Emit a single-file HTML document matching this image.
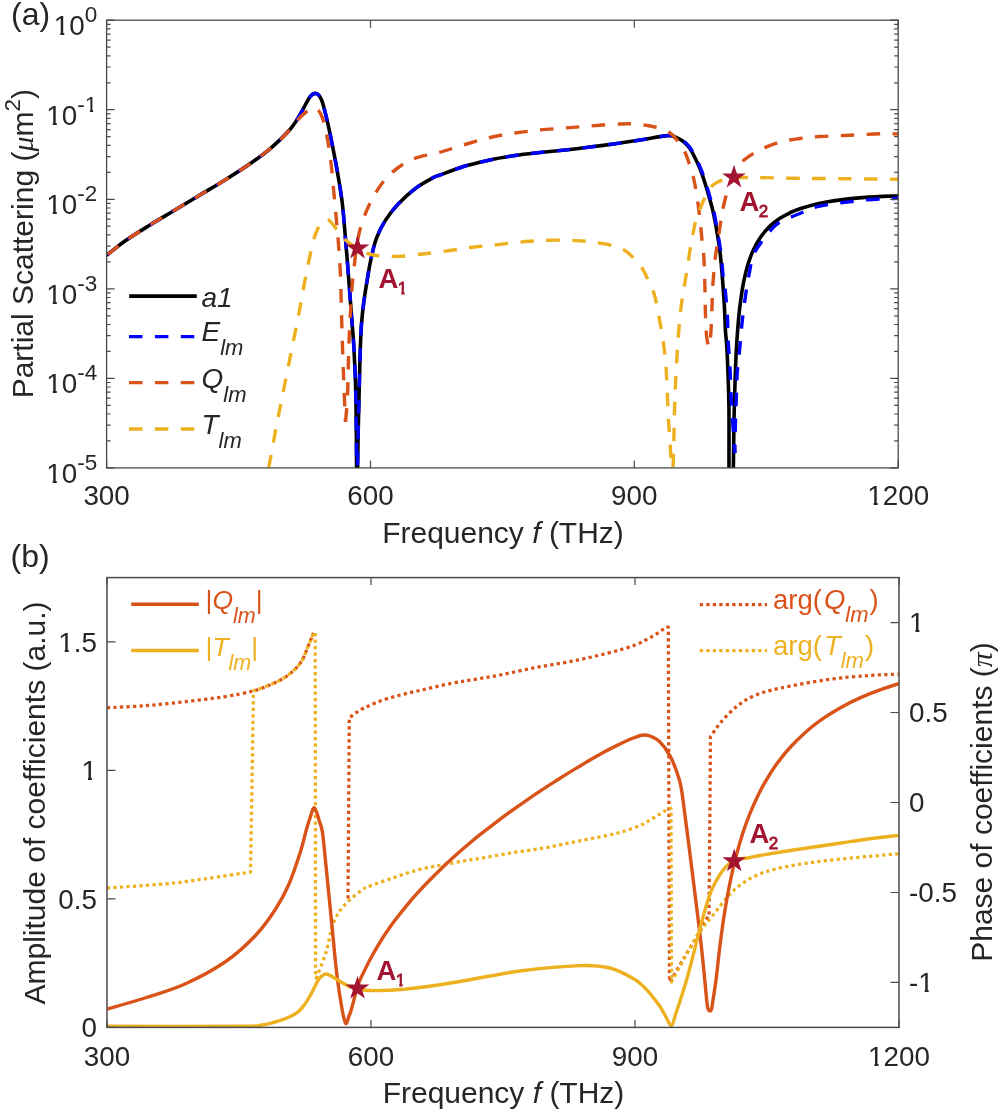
<!DOCTYPE html><html><head><meta charset="utf-8"><style>html,body{margin:0;padding:0;background:#fff;}svg{display:block;will-change:transform;}text{font-family:"Liberation Sans",sans-serif;fill:#262626;}</style></head><body>
<svg width="1000" height="1111" viewBox="0 0 1000 1111">
<rect width="1000" height="1111" fill="#fff"/>
<defs><clipPath id="ca"><rect x="106.6" y="20.2" width="791.6" height="447.7"/></clipPath>
<clipPath id="cb"><rect x="107" y="577.6" width="792" height="449.8"/></clipPath></defs>
<g clip-path="url(#ca)" fill="none" stroke-linejoin="round">
<path d="M106.6 255.3C109.7 252.9 117.8 246.1 125.0 241.0C132.2 235.9 141.7 230.2 150.0 225.0C158.3 219.8 166.7 215.0 175.0 210.0C183.3 205.0 191.7 200.0 200.0 195.0C208.3 190.0 216.7 185.2 225.0 180.0C233.3 174.8 242.5 169.0 250.0 163.8C257.5 158.5 263.3 154.5 270.0 148.8C276.7 143.0 284.9 135.4 290.0 129.5C295.1 123.6 297.5 118.7 300.8 113.3C304.1 107.9 307.2 100.4 309.8 97.1C312.4 93.8 314.2 93.0 316.1 93.5C318.1 94.0 319.7 95.5 321.5 99.8C323.3 104.1 325.1 112.1 326.9 119.6C328.7 127.1 330.5 135.8 332.3 144.8C334.1 153.8 336.1 164.0 337.7 173.6C339.3 183.2 340.9 191.9 342.2 202.4C343.5 212.9 344.4 225.7 345.3 236.5C346.2 247.3 347.0 256.9 347.8 267.0C348.6 277.1 349.4 288.0 350.1 297.2C350.8 306.4 351.4 313.9 352.0 322.0C352.6 330.1 353.3 337.1 353.8 345.9C354.3 354.7 354.8 364.9 355.2 375.0C355.6 385.1 355.8 395.8 356.0 406.6C356.2 417.4 356.3 429.9 356.4 440.0C356.5 450.1 356.5 458.7 356.6 467.0C356.7 475.3 356.8 486.2 356.8 490.0L358.2 490.0C358.1 486.0 357.6 477.9 357.6 466.0C357.7 454.1 358.1 434.7 358.5 418.7C358.9 402.7 359.3 384.2 359.7 370.0C360.1 355.8 360.4 343.0 360.9 333.7C361.3 324.4 361.8 320.1 362.4 314.0C363.0 307.9 363.7 302.9 364.5 297.2C365.3 291.5 366.2 286.1 367.2 280.0C368.2 273.9 369.1 267.7 370.6 260.8C372.1 253.9 373.9 245.1 376.4 238.4C378.9 231.7 381.8 226.1 385.4 220.4C389.0 214.7 392.9 209.6 398.0 204.2C403.1 198.8 410.0 192.5 416.0 188.0C422.0 183.5 430.0 179.4 434.0 177.2C438.0 175.0 434.8 176.9 440.0 175.0C445.2 173.1 456.7 168.5 465.0 166.0C473.3 163.5 481.7 161.8 490.0 160.0C498.3 158.2 506.7 156.8 515.0 155.5C523.3 154.2 531.7 153.4 540.0 152.5C548.3 151.6 556.7 150.9 565.0 150.0C573.3 149.1 581.7 148.0 590.0 147.0C598.3 146.0 606.7 144.9 615.0 143.8C623.3 142.6 631.7 141.3 640.0 140.0C648.3 138.7 659.8 136.6 665.0 135.9C670.2 135.2 669.2 135.4 671.0 135.6C672.8 135.8 674.2 136.5 676.0 137.3C677.8 138.1 680.0 139.1 682.0 140.5C684.0 141.9 686.3 144.1 688.0 146.0C689.7 147.9 690.5 149.3 692.0 152.0C693.5 154.7 695.6 159.0 697.0 162.0C698.4 165.0 699.3 167.0 700.5 170.0C701.7 173.0 702.4 175.0 704.0 180.0C705.6 185.0 708.3 194.0 710.0 200.0C711.7 206.0 712.3 207.3 714.0 216.0C715.7 224.7 718.3 238.0 720.0 252.0C721.7 266.0 723.1 287.0 724.0 300.0C724.9 313.0 724.9 321.3 725.4 330.0C725.9 338.7 726.5 339.3 727.1 352.0C727.7 364.7 728.6 386.8 728.9 406.0C729.2 425.2 728.9 453.0 729.0 467.0C729.1 481.0 729.4 486.2 729.5 490.0L733.0 490.0C733.1 486.0 733.2 479.7 733.4 466.0C733.6 452.3 733.8 426.2 734.3 407.7C734.8 389.1 735.4 369.4 736.1 354.7C736.8 340.0 737.7 329.1 738.5 319.6C739.3 310.2 740.1 304.6 741.0 298.0C741.9 291.4 742.8 285.8 744.0 280.2C745.2 274.6 746.5 269.2 748.0 264.3C749.5 259.4 751.0 255.1 753.0 250.7C755.0 246.3 757.2 242.1 760.0 238.0C762.8 233.9 766.7 229.4 770.0 226.1C773.3 222.8 776.7 220.5 780.0 218.3C783.3 216.1 786.7 214.4 790.0 212.8C793.3 211.2 795.0 210.3 800.0 208.7C805.0 207.1 814.2 204.7 820.0 203.3C825.8 202.0 827.5 201.6 835.0 200.6C842.5 199.6 854.2 198.2 865.0 197.4C875.8 196.6 894.2 196.1 900.0 195.8" stroke="#000" stroke-width="3.6"/>
<path d="M106.6 255.3C109.7 252.9 117.8 246.1 125.0 241.0C132.2 235.9 141.7 230.2 150.0 225.0C158.3 219.8 166.7 215.0 175.0 210.0C183.3 205.0 191.7 200.0 200.0 195.0C208.3 190.0 216.7 185.2 225.0 180.0C233.3 174.8 242.5 169.0 250.0 163.8C257.5 158.5 263.3 154.5 270.0 148.8C276.7 143.0 284.9 135.4 290.0 129.5C295.1 123.6 297.5 118.7 300.8 113.3C304.1 107.9 307.2 100.4 309.8 97.1C312.4 93.8 314.2 93.0 316.1 93.5C318.1 94.0 319.7 95.5 321.5 99.8C323.3 104.1 325.1 112.1 326.9 119.6C328.7 127.1 330.5 135.8 332.3 144.8C334.1 153.8 336.1 164.0 337.7 173.6C339.3 183.2 340.9 191.9 342.2 202.4C343.5 212.9 344.4 225.7 345.3 236.5C346.2 247.3 347.0 256.9 347.8 267.0C348.6 277.1 349.4 288.0 350.1 297.2C350.8 306.4 351.4 313.9 352.0 322.0C352.6 330.1 353.3 337.1 353.8 345.9C354.3 354.7 354.8 364.9 355.2 375.0C355.6 385.1 355.8 395.8 356.0 406.6C356.2 417.4 356.3 429.9 356.4 440.0C356.5 450.1 356.5 458.7 356.6 467.0C356.7 475.3 356.8 486.2 356.8 490.0" stroke="#0000FF" stroke-width="3.4" stroke-dasharray="13.5 12.4" stroke-dashoffset="-1"/>
<path d="M358.2 490.0C358.1 486.0 357.6 477.9 357.6 466.0C357.7 454.1 358.1 434.7 358.5 418.7C358.9 402.7 359.3 384.2 359.7 370.0C360.1 355.8 360.4 343.0 360.9 333.7C361.3 324.4 361.8 320.1 362.4 314.0C363.0 307.9 363.7 302.9 364.5 297.2C365.3 291.5 366.2 286.1 367.2 280.0C368.2 273.9 369.1 267.7 370.6 260.8C372.1 253.9 373.9 245.1 376.4 238.4C378.9 231.7 381.8 226.1 385.4 220.4C389.0 214.7 392.9 209.6 398.0 204.2C403.1 198.8 410.0 192.5 416.0 188.0C422.0 183.5 430.0 179.4 434.0 177.2C438.0 175.0 434.8 176.9 440.0 175.0C445.2 173.1 456.7 168.5 465.0 166.0C473.3 163.5 481.7 161.8 490.0 160.0C498.3 158.2 506.7 156.8 515.0 155.5C523.3 154.2 531.7 153.4 540.0 152.5C548.3 151.6 556.7 150.9 565.0 150.0C573.3 149.1 581.7 148.0 590.0 147.0C598.3 146.0 606.7 144.9 615.0 143.8C623.3 142.6 631.7 141.3 640.0 140.0C648.3 138.7 659.8 136.6 665.0 135.9C670.2 135.2 669.2 135.4 671.0 135.6C672.8 135.8 674.1 136.5 676.0 137.3C677.9 138.1 680.4 139.1 682.5 140.5C684.6 141.9 687.0 144.1 688.7 146.0C690.4 147.9 691.3 149.3 692.8 152.0C694.3 154.7 696.4 159.0 697.8 162.0C699.2 165.0 700.1 167.0 701.3 170.0C702.5 173.0 703.2 175.0 704.8 180.0C706.4 185.0 709.1 194.0 710.8 200.0C712.5 206.0 713.1 207.3 714.8 216.0C716.5 224.7 719.4 242.2 720.8 252.0C722.2 261.8 722.3 269.1 723.0 275.0C723.7 280.9 724.2 280.7 724.9 287.2C725.6 293.7 726.8 305.2 727.3 314.2C727.8 323.2 727.8 332.2 728.2 341.2C728.7 350.2 729.5 359.5 730.0 368.2C730.5 376.9 730.4 384.4 730.9 393.4C731.4 402.4 732.1 412.3 732.7 422.2C733.4 432.1 734.4 447.9 734.8 453.0" stroke="#0000FF" stroke-width="3.4" stroke-dasharray="13.5 12.4" stroke-dashoffset="674.38"/>
<path d="M734.8 453.0C734.9 448.2 735.1 433.0 735.4 424.0C735.6 415.0 736.0 407.2 736.3 398.8C736.6 390.4 736.6 382.3 737.2 373.6C737.8 364.9 739.0 355.9 739.9 346.6C740.8 337.3 741.5 327.1 742.6 317.8C743.7 308.5 745.1 298.4 746.2 290.8C747.4 283.2 748.4 277.8 749.5 272.0C750.6 266.2 751.2 260.7 753.0 256.0C754.8 251.3 757.2 248.2 760.0 244.0C762.8 239.8 766.7 234.7 770.0 231.0C773.3 227.3 775.0 224.9 780.0 222.0C785.0 219.1 793.3 216.2 800.0 213.5C806.7 210.8 809.2 208.2 820.0 206.0C830.8 203.8 851.7 201.3 865.0 200.0C878.3 198.7 894.2 198.5 900.0 198.2" stroke="#0000FF" stroke-width="3.4" stroke-dasharray="13.5 12.4" stroke-dashoffset="1584.91"/>
<path d="M106.6 255.3C109.7 252.9 117.8 246.1 125.0 241.0C132.2 235.9 141.7 230.2 150.0 225.0C158.3 219.8 166.7 215.0 175.0 210.0C183.3 205.0 191.7 200.0 200.0 195.0C208.3 190.0 216.7 185.2 225.0 180.0C233.3 174.8 242.5 169.0 250.0 163.8C257.5 158.5 264.2 153.5 270.0 148.8C275.8 144.0 280.5 139.7 285.0 135.0C289.5 130.3 293.4 124.6 297.2 120.5C301.0 116.4 304.9 112.6 308.0 110.6C311.1 108.6 313.6 107.3 316.0 108.5C318.4 109.7 320.4 112.3 322.4 117.8C324.4 123.2 326.3 133.1 327.8 141.2C329.3 149.3 330.3 157.4 331.4 166.4C332.4 175.4 333.2 185.6 334.1 195.2C335.0 204.8 336.1 215.6 336.8 224.0C337.6 232.4 338.0 237.2 338.6 245.6C339.2 254.0 339.9 261.3 340.4 274.4C340.9 287.5 341.3 306.7 341.8 324.0C342.3 341.3 343.0 361.7 343.6 378.0C344.2 394.3 345.2 414.7 345.5 422.0" stroke="#D95319" stroke-width="3.4" stroke-dasharray="13.5 12.4" stroke-dashoffset="-1.8"/>
<path d="M345.5 422.0C345.8 417.7 346.9 409.3 347.5 396.0C348.1 382.7 348.3 358.8 349.0 342.0C349.7 325.2 350.7 307.2 351.5 295.0C352.3 282.8 352.8 278.7 353.9 269.0C355.0 259.3 356.4 245.9 358.4 236.6C360.3 227.3 362.6 220.7 365.6 213.2C368.6 205.7 372.2 198.2 376.4 191.6C380.6 185.0 384.8 179.0 390.8 173.6C396.8 168.2 404.4 162.7 412.4 159.2C420.4 155.7 430.2 154.9 439.0 152.5C447.8 150.1 456.5 147.0 465.0 144.5C473.5 142.0 481.7 139.4 490.0 137.5C498.3 135.6 506.7 134.2 515.0 133.0C523.3 131.8 531.7 130.8 540.0 130.0C548.3 129.2 556.7 128.7 565.0 128.0C573.3 127.3 580.8 126.7 590.0 126.0C599.2 125.3 612.5 124.3 620.0 124.0C627.5 123.7 630.0 123.7 635.0 124.0C640.0 124.3 645.8 125.2 650.0 126.0C654.2 126.8 656.7 127.3 660.0 128.5C663.3 129.7 667.2 131.1 670.0 133.0C672.8 134.9 674.7 137.2 677.0 140.0C679.3 142.8 682.0 146.2 684.0 150.0C686.0 153.8 687.3 158.0 689.0 163.0C690.7 168.0 692.6 173.8 694.0 180.0C695.4 186.2 696.5 193.3 697.5 200.0C698.5 206.7 699.2 213.3 700.0 220.0C700.8 226.7 701.3 233.3 702.0 240.0C702.7 246.7 703.5 251.3 704.0 260.0C704.5 268.7 704.8 282.7 705.0 292.0C705.2 301.3 705.2 308.7 705.5 316.0C705.8 323.3 706.1 331.1 706.6 336.0C707.1 340.9 707.9 343.9 708.2 345.5" stroke="#D95319" stroke-width="3.4" stroke-dasharray="13.5 12.4" stroke-dashoffset="569.09"/>
<path d="M708.2 345.5C708.6 343.9 710.0 342.4 710.6 336.0C711.2 329.6 711.7 314.7 712.0 307.0C712.3 299.3 712.0 297.8 712.5 290.0C713.0 282.2 714.1 268.3 715.0 260.0C715.9 251.7 717.0 246.7 718.0 240.0C719.0 233.3 720.0 226.0 721.0 220.0C722.0 214.0 722.7 209.7 724.0 204.0C725.3 198.3 727.3 191.0 729.0 186.0C730.7 181.0 731.5 178.3 734.0 174.0C736.5 169.7 739.7 164.0 744.0 160.0C748.3 156.0 754.0 153.0 760.0 150.0C766.0 147.0 773.3 143.9 780.0 142.0C786.7 140.1 793.3 139.4 800.0 138.5C806.7 137.6 811.7 137.0 820.0 136.5C828.3 136.0 840.0 135.7 850.0 135.2C860.0 134.8 871.7 134.0 880.0 133.8C888.3 133.5 896.7 134.0 900.0 134.0" stroke="#D95319" stroke-width="3.4" stroke-dasharray="13.5 12.4" stroke-dashoffset="1338.32"/>
<path d="M265.0 490.0C265.6 486.2 266.9 478.2 268.9 467.0C270.9 455.8 274.4 436.3 277.0 423.0C279.6 409.7 281.8 399.0 284.2 387.0C286.6 375.0 289.0 363.0 291.4 351.0C293.8 339.0 296.3 326.8 298.6 315.0C300.9 303.2 303.1 289.8 305.0 280.0C306.9 270.2 308.5 262.7 309.8 256.4C311.1 250.1 312.0 245.9 313.0 242.0C314.0 238.1 314.7 236.0 316.0 233.0C317.3 230.0 318.6 226.2 320.6 224.0C322.6 221.8 325.1 218.6 327.8 219.5C330.5 220.4 333.8 226.0 336.8 229.4C339.8 232.8 341.6 236.6 345.8 240.2C350.0 243.8 356.9 248.4 362.0 251.0C367.1 253.6 370.4 254.6 376.4 255.5C382.4 256.4 389.9 256.7 398.0 256.4C406.1 256.1 416.3 254.7 425.0 253.7C433.7 252.7 442.5 251.5 450.0 250.5C457.5 249.5 463.3 248.3 470.0 247.5C476.7 246.7 483.3 246.2 490.0 245.5C496.7 244.8 503.3 243.9 510.0 243.2C516.7 242.5 523.3 241.8 530.0 241.3C536.7 240.8 542.5 240.3 550.0 240.2C557.5 240.1 568.3 240.3 575.0 240.6C581.7 240.9 584.2 241.1 590.0 241.8C595.8 242.5 604.3 243.6 610.0 245.0C615.7 246.4 620.2 248.0 624.0 250.0C627.8 252.0 629.5 254.0 632.5 257.0C635.5 260.0 639.4 264.2 642.0 268.0C644.6 271.8 645.8 275.2 648.0 280.0C650.2 284.8 652.8 288.6 655.0 297.0C657.2 305.4 659.7 320.6 661.4 330.4C663.1 340.2 664.1 347.2 665.0 355.6C665.9 364.0 666.3 370.9 666.8 380.8C667.3 390.7 667.7 404.8 668.2 415.0C668.7 425.2 669.5 433.3 670.0 442.0C670.5 450.7 671.1 459.0 671.5 467.0C671.9 475.0 672.3 486.2 672.5 490.0" stroke="#EDB120" stroke-width="3.4" stroke-dasharray="13.5 12.4" stroke-dashoffset="3.75"/>
<path d="M673.0 490.0C673.0 486.2 672.9 476.5 673.1 467.0C673.3 457.5 673.7 444.7 674.0 433.0C674.3 421.3 674.4 409.0 674.9 397.0C675.4 385.0 676.1 371.5 676.7 361.0C677.3 350.5 677.9 342.2 678.5 334.0C679.1 325.8 679.9 317.7 680.5 312.0C681.1 306.3 681.4 304.0 682.0 300.0C682.6 296.0 683.2 293.0 684.0 288.0C684.8 283.0 686.0 276.3 687.0 270.0C688.0 263.7 689.0 256.0 690.0 250.0C691.0 244.0 692.0 239.0 693.0 234.0C694.0 229.0 694.5 225.0 696.0 220.0C697.5 215.0 700.2 208.3 702.0 204.0C703.8 199.7 705.3 197.0 707.0 194.0C708.7 191.0 710.2 188.0 712.0 186.0C713.8 184.0 716.0 183.1 718.0 182.0C720.0 180.9 721.4 180.2 724.0 179.5C726.6 178.8 728.1 177.9 733.6 177.6C739.1 177.3 745.9 177.5 757.0 177.6C768.1 177.7 784.5 178.1 800.0 178.3C815.5 178.5 833.3 178.6 850.0 178.8C866.7 178.9 891.7 179.1 900.0 179.2" stroke="#EDB120" stroke-width="3.4" stroke-dasharray="13.5 12.4" stroke-dashoffset="857.65"/>
</g>
<path d="M106.6 20.2L114.6 20.2M898.2 20.2L890.2 20.2M106.6 82.8L110.6 82.8M898.2 82.8L894.2 82.8M106.6 67.0L110.6 67.0M898.2 67.0L894.2 67.0M106.6 55.8L110.6 55.8M898.2 55.8L894.2 55.8M106.6 47.2L110.6 47.2M898.2 47.2L894.2 47.2M106.6 40.1L110.6 40.1M898.2 40.1L894.2 40.1M106.6 34.1L110.6 34.1M898.2 34.1L894.2 34.1M106.6 28.9L110.6 28.9M898.2 28.9L894.2 28.9M106.6 24.3L110.6 24.3M898.2 24.3L894.2 24.3M106.6 109.7L114.6 109.7M898.2 109.7L890.2 109.7M106.6 172.3L110.6 172.3M898.2 172.3L894.2 172.3M106.6 156.6L110.6 156.6M898.2 156.6L894.2 156.6M106.6 145.4L110.6 145.4M898.2 145.4L894.2 145.4M106.6 136.7L110.6 136.7M898.2 136.7L894.2 136.7M106.6 129.6L110.6 129.6M898.2 129.6L894.2 129.6M106.6 123.6L110.6 123.6M898.2 123.6L894.2 123.6M106.6 118.4L110.6 118.4M898.2 118.4L894.2 118.4M106.6 113.8L110.6 113.8M898.2 113.8L894.2 113.8M106.6 199.3L114.6 199.3M898.2 199.3L890.2 199.3M106.6 261.9L110.6 261.9M898.2 261.9L894.2 261.9M106.6 246.1L110.6 246.1M898.2 246.1L894.2 246.1M106.6 234.9L110.6 234.9M898.2 234.9L894.2 234.9M106.6 226.2L110.6 226.2M898.2 226.2L894.2 226.2M106.6 219.1L110.6 219.1M898.2 219.1L894.2 219.1M106.6 213.1L110.6 213.1M898.2 213.1L894.2 213.1M106.6 208.0L110.6 208.0M898.2 208.0L894.2 208.0M106.6 203.4L110.6 203.4M898.2 203.4L894.2 203.4M106.6 288.8L114.6 288.8M898.2 288.8L890.2 288.8M106.6 351.4L110.6 351.4M898.2 351.4L894.2 351.4M106.6 335.6L110.6 335.6M898.2 335.6L894.2 335.6M106.6 324.5L110.6 324.5M898.2 324.5L894.2 324.5M106.6 315.8L110.6 315.8M898.2 315.8L894.2 315.8M106.6 308.7L110.6 308.7M898.2 308.7L894.2 308.7M106.6 302.7L110.6 302.7M898.2 302.7L894.2 302.7M106.6 297.5L110.6 297.5M898.2 297.5L894.2 297.5M106.6 292.9L110.6 292.9M898.2 292.9L894.2 292.9M106.6 378.4L114.6 378.4M898.2 378.4L890.2 378.4M106.6 440.9L110.6 440.9M898.2 440.9L894.2 440.9M106.6 425.2L110.6 425.2M898.2 425.2L894.2 425.2M106.6 414.0L110.6 414.0M898.2 414.0L894.2 414.0M106.6 405.3L110.6 405.3M898.2 405.3L894.2 405.3M106.6 398.2L110.6 398.2M898.2 398.2L894.2 398.2M106.6 392.2L110.6 392.2M898.2 392.2L894.2 392.2M106.6 387.0L110.6 387.0M898.2 387.0L894.2 387.0M106.6 382.5L110.6 382.5M898.2 382.5L894.2 382.5M106.6 467.9L114.6 467.9M898.2 467.9L890.2 467.9M106.6 20.2L106.6 27.7M106.6 467.9L106.6 460.4M370.5 20.2L370.5 27.7M370.5 467.9L370.5 460.4M634.3 20.2L634.3 27.7M634.3 467.9L634.3 460.4M898.2 20.2L898.2 27.7M898.2 467.9L898.2 460.4" stroke="#4a4a4a" stroke-width="1.2" fill="none"/>
<rect x="106.6" y="20.2" width="791.6" height="447.7" fill="none" stroke="#4a4a4a" stroke-width="1.3"/>
<text x="97.3" y="35.2" font-size="27.8" text-anchor="end">10<tspan font-size="22.5" dy="-13">0</tspan></text>
<text x="97.3" y="124.7" font-size="27.8" text-anchor="end">10<tspan font-size="22.5" dy="-13">-1</tspan></text>
<text x="97.3" y="214.3" font-size="27.8" text-anchor="end">10<tspan font-size="22.5" dy="-13">-2</tspan></text>
<text x="97.3" y="303.8" font-size="27.8" text-anchor="end">10<tspan font-size="22.5" dy="-13">-3</tspan></text>
<text x="97.3" y="393.4" font-size="27.8" text-anchor="end">10<tspan font-size="22.5" dy="-13">-4</tspan></text>
<text x="97.3" y="482.9" font-size="27.8" text-anchor="end">10<tspan font-size="22.5" dy="-13">-5</tspan></text>
<text x="106.6" y="504.9" font-size="27.8" text-anchor="middle">300</text>
<text x="370.5" y="504.9" font-size="27.8" text-anchor="middle">600</text>
<text x="634.3" y="504.9" font-size="27.8" text-anchor="middle">900</text>
<text x="898.2" y="504.9" font-size="27.8" text-anchor="middle">1200</text>
<text x="503" y="542.8" font-size="30" text-anchor="middle">Frequency <tspan font-style="italic">f</tspan> (THz)</text>
<text transform="translate(32.9,243.7) rotate(-90)" font-size="30" text-anchor="middle">Partial Scattering (<tspan font-family="Liberation Serif" font-style="italic">μ</tspan>m<tspan font-size="22.5" dy="-13">2</tspan><tspan dy="13">)</tspan></text>
<text x="11" y="24.6" font-size="32">(a)</text>
<line x1="129.2" y1="296.2" x2="196.8" y2="296.2" stroke="#000" stroke-width="3.8"/>
<line x1="129" y1="336.6" x2="196" y2="336.6" stroke="#0000FF" stroke-width="3.4" stroke-dasharray="13.5 12.4"/>
<line x1="129" y1="382.6" x2="196" y2="382.6" stroke="#D95319" stroke-width="3.4" stroke-dasharray="13.5 12.4"/>
<line x1="129" y1="429" x2="196" y2="429" stroke="#EDB120" stroke-width="3.4" stroke-dasharray="13.5 12.4"/>
<text x="201.5" y="306.6" font-size="28" font-style="italic">a1</text>
<text x="201.5" y="341" font-size="28" font-style="italic">E<tspan font-size="22" dy="14">lm</tspan></text>
<text x="201.5" y="387.5" font-size="28" font-style="italic">Q<tspan font-size="22" dy="14">lm</tspan></text>
<text x="201.5" y="433.8" font-size="28" font-style="italic">T<tspan font-size="22" dy="14">lm</tspan></text>
<polygon points="357.50,235.80 360.31,244.44 369.39,244.44 362.04,249.78 364.85,258.41 357.50,253.08 350.15,258.41 352.96,249.78 345.61,244.44 354.69,244.44" fill="#A2142F"/>
<polygon points="734.00,164.80 736.81,173.44 745.89,173.44 738.54,178.78 741.35,187.41 734.00,182.08 726.65,187.41 729.46,178.78 722.11,173.44 731.19,173.44" fill="#A2142F"/>
<text x="378.5" y="287.8" font-size="27.5" font-weight="bold" style="fill:#A2142F">A</text><text x="397.8" y="293.7" font-size="17" style="fill:#A2142F;stroke:#A2142F;stroke-width:0.8">1</text>
<text x="739.5" y="210.8" font-size="27.5" font-weight="bold" style="fill:#A2142F">A</text><text x="758.8" y="216.70000000000002" font-size="17" style="fill:#A2142F;stroke:#A2142F;stroke-width:0.8">2</text>
<g clip-path="url(#cb)" fill="none" stroke-linejoin="round">
<path d="M107.0 707.7C113.3 707.4 131.7 706.7 144.6 705.7C157.5 704.7 171.0 703.3 184.2 701.8C197.4 700.3 212.2 698.6 223.8 696.8C235.4 695.0 245.5 693.0 253.5 690.9C261.5 688.8 266.2 686.6 272.0 684.0C277.8 681.4 283.2 678.8 288.0 675.2C292.8 671.6 297.5 667.2 300.8 662.4C304.1 657.6 306.2 650.5 308.0 646.4C309.8 642.3 310.6 640.3 311.5 638.0C312.4 635.7 313.2 633.7 313.6 632.8" stroke="#D95319" stroke-width="3.25" stroke-dasharray="3.25 3.25"/>
<path d="M348.0 898.4L349.3 717.6L349.3 717.6C351.8 716.0 357.6 711.2 364.0 708.0C370.4 704.8 378.7 701.3 388.0 698.4C397.3 695.5 409.3 692.9 420.0 690.4C430.7 687.9 442.7 685.1 452.0 683.2C461.3 681.3 468.0 680.6 476.0 679.2C484.0 677.8 490.0 677.0 500.0 675.0C510.0 673.0 524.0 669.8 536.0 667.5C548.0 665.2 560.0 663.6 572.0 661.2C584.0 658.8 597.5 655.8 608.0 653.1C618.5 650.4 627.5 647.9 635.0 645.0C642.5 642.1 647.8 639.0 653.0 636.0C658.2 633.0 664.2 628.5 666.5 627.0L668.3 627.0L669.5 980.0L670.0 982.0C672.3 978.0 679.3 965.9 684.0 958.0C688.7 950.1 694.0 941.5 698.0 934.5C702.0 927.5 706.6 919.1 708.3 916.0L709.0 916.0L710.5 736.8L710.5 736.8C712.2 734.4 716.4 727.5 720.8 722.4C725.2 717.3 731.3 710.7 737.0 706.2C742.7 701.7 747.8 698.4 755.0 695.4C762.2 692.4 767.9 690.8 780.0 688.2C792.1 685.6 812.8 681.7 827.5 679.6C842.2 677.5 856.1 676.5 868.0 675.6C879.9 674.7 893.8 674.4 899.0 674.2" stroke="#D95319" stroke-width="3.25" stroke-dasharray="3.25 3.25"/>
<path d="M107.0 888.0C116.6 887.3 148.2 885.5 164.4 884.0C180.6 882.5 189.7 881.0 204.0 879.0C218.3 877.0 242.8 873.2 250.5 872.1L250.5 872.1L253.5 691.9L253.5 690.9C256.6 689.8 266.2 686.6 272.0 684.0C277.8 681.4 283.2 678.8 288.0 675.2C292.8 671.6 297.5 667.2 300.8 662.4C304.1 657.6 306.2 650.5 308.0 646.4C309.8 642.3 310.6 640.3 311.5 638.0C312.4 635.7 313.2 633.7 313.6 632.8L315.2 632.8L315.6 977.6L316.5 977.6C318.1 973.4 323.2 961.4 326.0 952.4C328.8 943.4 330.2 931.4 333.2 923.6C336.2 915.8 339.2 911.2 344.0 905.6C348.8 900.0 357.7 893.3 362.0 890.0C366.3 886.7 364.7 888.1 370.0 886.0C375.3 883.9 386.0 880.3 394.0 877.6C402.0 874.9 410.0 871.9 418.0 869.8C426.0 867.7 434.0 866.5 442.0 865.0C450.0 863.5 459.7 861.6 466.0 860.5C472.3 859.4 472.3 859.7 480.0 858.4C487.7 857.1 501.3 854.5 512.0 852.8C522.7 851.1 533.3 849.9 544.0 848.0C554.7 846.1 565.3 843.7 576.0 841.6C586.7 839.5 600.0 836.9 608.0 835.2C616.0 833.5 618.7 832.8 624.0 831.2C629.3 829.6 635.7 827.5 640.0 825.6C644.3 823.7 646.7 821.9 650.0 820.0C653.3 818.1 656.8 816.0 660.0 814.0C663.2 812.0 667.5 809.2 669.0 808.3L671.0 808.3L671.5 982.0L671.5 982.0C673.8 977.8 680.6 964.9 685.0 957.0C689.4 949.1 693.4 941.3 698.0 934.5C702.6 927.7 706.5 923.2 712.4 916.0C718.2 908.8 726.2 897.6 733.1 891.0C740.0 884.4 746.9 880.2 753.8 876.6C760.7 873.0 766.8 871.4 774.5 869.3C782.2 867.2 791.2 865.7 800.0 864.2C808.8 862.7 816.2 861.8 827.5 860.5C838.8 859.2 856.1 857.6 868.0 856.5C879.9 855.4 893.8 854.2 899.0 853.8" stroke="#EDB120" stroke-width="3.25" stroke-dasharray="3.25 3.25"/>
<path d="M107.0 1009.0C113.3 1007.2 132.0 1002.2 145.0 998.0C158.0 993.8 171.7 990.0 185.0 984.0C198.3 978.0 213.3 970.0 225.0 962.0C236.7 954.0 246.7 944.7 255.0 936.0C263.3 927.3 269.3 918.7 275.0 910.0C280.7 901.3 284.7 894.0 289.0 884.0C293.3 874.0 298.2 858.8 301.0 850.0C303.8 841.2 304.5 836.3 306.0 831.0C307.5 825.7 308.7 821.8 310.0 818.0C311.3 814.2 312.5 809.0 313.6 808.0C314.7 807.0 315.6 810.0 316.5 812.0C317.4 814.0 318.0 816.7 319.0 820.0C320.0 823.3 321.2 824.3 322.4 832.0C323.6 839.7 324.5 851.3 326.0 866.0C327.5 880.7 329.6 902.0 331.4 920.0C333.2 938.0 335.0 959.0 336.8 974.0C338.6 989.0 340.7 1001.8 342.2 1010.0C343.7 1018.2 344.7 1022.5 345.8 1023.5C346.9 1024.5 348.1 1018.2 349.0 1016.0C349.9 1013.8 349.6 1015.3 351.2 1010.0C352.8 1004.7 356.1 990.7 358.4 984.0C360.7 977.3 362.9 974.0 365.0 969.6C367.1 965.2 368.2 962.8 371.0 957.7C373.8 952.6 378.2 945.0 382.0 939.0C385.8 933.0 390.0 927.1 394.0 921.6C398.0 916.1 402.0 911.2 406.0 906.3C410.0 901.4 414.0 896.8 418.0 892.4C422.0 888.0 426.0 883.8 430.0 879.7C434.0 875.6 438.0 871.7 442.0 867.9C446.0 864.1 450.0 860.4 454.0 856.8C458.0 853.2 461.7 850.0 466.0 846.3C470.3 842.6 475.0 838.7 480.0 834.7C485.0 830.7 490.7 826.3 496.0 822.3C501.3 818.3 506.7 814.3 512.0 810.5C517.3 806.7 522.7 802.9 528.0 799.3C533.3 795.6 538.7 792.1 544.0 788.6C549.3 785.1 554.7 781.7 560.0 778.3C565.3 774.9 571.0 771.4 576.0 768.4C581.0 765.4 585.2 762.8 590.0 760.0C594.8 757.2 600.0 754.2 605.0 751.5C610.0 748.8 615.5 746.2 620.0 744.0C624.5 741.8 628.3 740.0 632.0 738.5C635.7 737.0 639.0 735.6 642.0 735.2C645.0 734.8 647.1 735.0 650.0 736.0C652.9 737.0 656.2 738.1 659.6 741.5C663.0 744.9 667.1 750.2 670.4 756.6C673.7 763.0 677.3 772.8 679.4 780.0C681.5 787.2 681.3 788.0 683.0 800.0C684.7 812.0 686.9 829.3 689.7 851.7C692.5 874.1 697.6 914.5 700.0 934.5C702.4 954.5 702.8 960.6 704.0 972.0C705.2 983.4 706.2 996.7 707.0 1003.0C707.8 1009.3 707.8 1008.8 708.5 1010.0C709.2 1011.2 710.5 1011.7 711.2 1010.0C712.0 1008.3 712.2 1005.0 713.0 1000.0C713.8 995.0 714.8 989.1 716.0 980.0C717.2 970.9 718.5 957.0 720.0 945.3C721.5 933.6 723.3 920.5 725.0 910.0C726.7 899.5 728.2 891.4 730.0 882.5C731.8 873.6 733.8 864.8 736.0 856.5C738.2 848.2 740.7 839.8 743.0 832.6C745.3 825.4 747.5 819.6 750.0 813.4C752.5 807.2 755.2 801.2 758.0 795.4C760.8 789.6 763.8 784.1 767.0 778.8C770.2 773.5 773.2 768.8 777.0 763.6C780.8 758.4 785.3 752.6 790.0 747.5C794.7 742.4 800.0 737.2 805.0 732.7C810.0 728.2 814.2 724.8 820.0 720.7C825.8 716.6 833.3 711.8 840.0 708.0C846.7 704.2 853.3 700.9 860.0 697.9C866.7 694.9 873.5 692.3 880.0 689.9C886.5 687.5 895.8 684.6 899.0 683.6" stroke="#D95319" stroke-width="3.4"/>
<path d="M107.0 1026.3C129.2 1026.3 214.2 1026.5 240.0 1026.3C265.8 1026.1 256.2 1025.7 262.0 1025.0C267.8 1024.3 270.8 1023.2 275.0 1022.0C279.2 1020.8 283.7 1019.3 287.0 1018.0C290.3 1016.7 292.8 1015.3 295.0 1014.0C297.2 1012.7 298.3 1011.7 300.0 1010.0C301.7 1008.3 303.3 1006.3 305.0 1004.0C306.7 1001.7 308.3 999.0 310.0 996.0C311.7 993.0 313.7 988.8 315.2 986.0C316.7 983.2 317.2 981.0 319.0 979.0C320.8 977.0 323.0 973.9 326.0 974.0C329.0 974.1 332.9 977.3 336.8 979.4C340.7 981.5 344.6 984.8 349.4 986.6C354.2 988.4 359.0 989.6 365.6 990.2C372.2 990.8 379.9 990.7 389.0 990.2C398.1 989.8 408.2 989.0 420.0 987.5C431.8 986.0 443.3 984.2 460.0 981.5C476.7 978.8 500.0 973.6 520.0 971.0C540.0 968.4 565.0 966.1 580.0 965.6C595.0 965.1 601.0 965.8 610.0 968.0C619.0 970.2 628.2 975.7 634.0 979.0C639.8 982.3 642.0 985.2 645.0 988.0C648.0 990.8 649.5 992.9 652.0 996.0C654.5 999.1 657.7 1003.0 660.0 1006.5C662.3 1010.0 664.1 1013.8 666.0 1017.0C667.9 1020.2 669.8 1026.2 671.5 1025.5C673.2 1024.8 674.2 1018.1 676.0 1013.0C677.8 1007.9 680.0 1001.3 682.0 995.0C684.0 988.7 686.0 982.2 688.0 975.0C690.0 967.8 692.0 959.8 694.0 952.0C696.0 944.2 697.3 938.1 700.0 928.3C702.7 918.5 706.6 902.8 710.4 893.1C714.2 883.5 718.7 875.9 722.8 870.4C726.9 864.9 731.1 862.1 735.2 860.0C739.3 857.9 743.5 858.8 747.6 858.0C751.7 857.2 753.4 856.7 760.0 855.5C766.6 854.3 778.0 852.4 787.0 851.0C796.0 849.6 805.0 848.3 814.0 847.0C823.0 845.7 832.0 844.3 841.0 843.0C850.0 841.7 858.3 840.3 868.0 839.0C877.7 837.7 893.8 836.0 899.0 835.4" stroke="#EDB120" stroke-width="3.4"/>
</g>
<path d="M107.0 1027.4L115.5 1027.4M107.0 898.9L115.5 898.9M107.0 770.4L115.5 770.4M107.0 641.9L115.5 641.9M899.0 982.4L890.5 982.4M899.0 892.5L890.5 892.5M899.0 802.5L890.5 802.5M899.0 712.5L890.5 712.5M899.0 622.6L890.5 622.6M107.0 577.6L107.0 585.1M107.0 1027.4L107.0 1019.9M371.0 577.6L371.0 585.1M371.0 1027.4L371.0 1019.9M635.0 577.6L635.0 585.1M635.0 1027.4L635.0 1019.9M899.0 577.6L899.0 585.1M899.0 1027.4L899.0 1019.9" stroke="#4a4a4a" stroke-width="1.2" fill="none"/>
<rect x="107" y="577.6" width="792.0" height="449.8" fill="none" stroke="#4a4a4a" stroke-width="1.5"/>
<text x="97" y="1037.2" font-size="27.8" text-anchor="end">0</text>
<text x="97" y="908.7" font-size="27.8" text-anchor="end">0.5</text>
<text x="97" y="780.2" font-size="27.8" text-anchor="end">1</text>
<text x="97" y="651.7" font-size="27.8" text-anchor="end">1.5</text>
<text x="909" y="992.2" font-size="27.8">-1</text>
<text x="909" y="902.3" font-size="27.8">-0.5</text>
<text x="909" y="812.3" font-size="27.8">0</text>
<text x="909" y="722.3" font-size="27.8">0.5</text>
<text x="909" y="632.4" font-size="27.8">1</text>
<text x="107.0" y="1065.6" font-size="27.8" text-anchor="middle">300</text>
<text x="371.0" y="1065.6" font-size="27.8" text-anchor="middle">600</text>
<text x="635.0" y="1065.6" font-size="27.8" text-anchor="middle">900</text>
<text x="899.0" y="1065.6" font-size="27.8" text-anchor="middle">1200</text>
<text x="503.5" y="1103.2" font-size="30" text-anchor="middle">Frequency <tspan font-style="italic">f</tspan> (THz)</text>
<text transform="translate(45.2,803) rotate(-90)" font-size="30" text-anchor="middle">Amplitude of coefficients (a.u.)</text>
<text transform="translate(992,802) rotate(-90)" font-size="30" text-anchor="middle">Phase of coefficients (<tspan font-family="Liberation Serif" font-style="italic">π</tspan>)</text>
<text x="10.5" y="567.1" font-size="32">(b)</text>
<line x1="131.2" y1="604.3" x2="198.8" y2="604.3" stroke="#D95319" stroke-width="3.4"/>
<line x1="131.2" y1="650.5" x2="198.8" y2="650.5" stroke="#EDB120" stroke-width="3.4"/>
<line x1="699.8" y1="604.5" x2="767" y2="604.5" stroke="#D95319" stroke-width="3.25" stroke-dasharray="3.25 3.25"/>
<line x1="699.8" y1="650.5" x2="767" y2="650.5" stroke="#EDB120" stroke-width="3.25" stroke-dasharray="3.25 3.25"/>
<text x="205.5" y="609.2" font-size="26.5" style="fill:#D95319">|<tspan font-style="italic">Q<tspan font-size="21.5" dy="14">lm</tspan></tspan><tspan dy="-14">|</tspan></text>
<text x="205.5" y="655.5" font-size="26.5" style="fill:#EDB120">|<tspan font-style="italic">T<tspan font-size="21.5" dy="14">lm</tspan></tspan><tspan dy="-14">|</tspan></text>
<text x="773" y="608.6" font-size="27.5" style="fill:#D95319">arg(<tspan font-style="italic" dx="2">Q<tspan font-size="22" dy="13.5">lm</tspan></tspan><tspan dy="-13.5" dx="1">)</tspan></text>
<text x="773" y="654.6" font-size="27.5" style="fill:#EDB120">arg(<tspan font-style="italic" dx="2">T<tspan font-size="22" dy="13.5">lm</tspan></tspan><tspan dy="-13.5" dx="1">)</tspan></text>
<polygon points="357.50,975.90 360.31,984.54 369.39,984.54 362.04,989.88 364.85,998.51 357.50,993.17 350.15,998.51 352.96,989.88 345.61,984.54 354.69,984.54" fill="#A2142F"/>
<polygon points="734.20,848.60 737.01,857.24 746.09,857.24 738.74,862.58 741.55,871.21 734.20,865.88 726.85,871.21 729.66,862.58 722.31,857.24 731.39,857.24" fill="#A2142F"/>
<text x="376.5" y="980.3" font-size="27.5" font-weight="bold" style="fill:#A2142F">A</text><text x="395.8" y="986.1999999999999" font-size="17" style="fill:#A2142F;stroke:#A2142F;stroke-width:0.8">1</text>
<text x="749.5" y="842.8" font-size="27.5" font-weight="bold" style="fill:#A2142F">A</text><text x="768.8" y="848.6999999999999" font-size="17" style="fill:#A2142F;stroke:#A2142F;stroke-width:0.8">2</text>
<rect x="55.22" y="31.46" width="5.03" height="5.24" fill="#fff"/>
<rect x="64.27" y="31.46" width="4.76" height="5.24" fill="#fff"/>
<rect x="47.72" y="120.96" width="5.03" height="5.24" fill="#fff"/>
<rect x="56.77" y="120.96" width="4.76" height="5.24" fill="#fff"/>
<rect x="85.87" y="108.50" width="4.05" height="4.70" fill="#fff"/>
<rect x="93.21" y="108.50" width="3.86" height="4.70" fill="#fff"/>
<rect x="47.72" y="210.56" width="5.03" height="5.24" fill="#fff"/>
<rect x="56.77" y="210.56" width="4.76" height="5.24" fill="#fff"/>
<rect x="47.72" y="300.06" width="5.03" height="5.24" fill="#fff"/>
<rect x="56.77" y="300.06" width="4.76" height="5.24" fill="#fff"/>
<rect x="47.72" y="389.66" width="5.03" height="5.24" fill="#fff"/>
<rect x="56.77" y="389.66" width="4.76" height="5.24" fill="#fff"/>
<rect x="47.72" y="479.16" width="5.03" height="5.24" fill="#fff"/>
<rect x="56.77" y="479.16" width="4.76" height="5.24" fill="#fff"/>
<rect x="868.64" y="501.16" width="5.03" height="5.24" fill="#fff"/>
<rect x="877.68" y="501.16" width="4.76" height="5.24" fill="#fff"/>
<rect x="398.23" y="290.67" width="3.04" height="4.53" fill="#fff"/>
<rect x="404.60" y="290.67" width="2.91" height="4.53" fill="#fff"/>
<rect x="82.89" y="776.46" width="5.03" height="5.24" fill="#fff"/>
<rect x="91.93" y="776.46" width="4.76" height="5.24" fill="#fff"/>
<rect x="59.70" y="647.96" width="5.03" height="5.24" fill="#fff"/>
<rect x="68.75" y="647.96" width="4.76" height="5.24" fill="#fff"/>
<rect x="919.61" y="988.46" width="5.03" height="5.24" fill="#fff"/>
<rect x="928.65" y="988.46" width="4.76" height="5.24" fill="#fff"/>
<rect x="910.36" y="628.66" width="5.03" height="5.24" fill="#fff"/>
<rect x="919.40" y="628.66" width="4.76" height="5.24" fill="#fff"/>
<rect x="869.44" y="1061.86" width="5.03" height="5.24" fill="#fff"/>
<rect x="878.48" y="1061.86" width="4.76" height="5.24" fill="#fff"/>
<rect x="396.23" y="983.17" width="3.04" height="4.53" fill="#fff"/>
<rect x="402.60" y="983.17" width="2.91" height="4.53" fill="#fff"/>
</svg></body></html>
